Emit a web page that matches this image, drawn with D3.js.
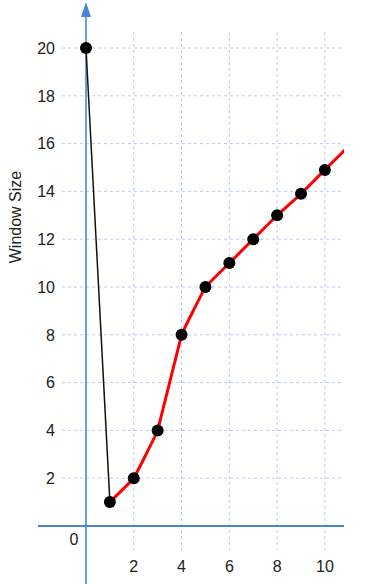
<!DOCTYPE html>
<html>
<head>
<meta charset="utf-8">
<script src="https://cdn.jsdelivr.net/npm/d3@7"></script>
<style>
  body { margin: 0; background: #fff; }
  text { font-family: Arial, "Liberation Sans", sans-serif; fill: #222; }
</style>
</head>
<body>
<svg id="chart" width="370" height="584"></svg>
<script>
// data
var steps = [0, 1, 2, 3, 4, 5, 6, 7, 8, 9, 10];
var windowSize = [20, 1, 2, 4, 8, 10, 11, 12, 13, 13.9, 14.9];
var growthX = [1, 2, 3, 4, 5, 6, 7, 8, 9, 10, 11];
var growthY = [1, 2, 4, 8, 10, 11, 12, 13, 13.9, 14.9, 15.9];
var xTicks = [2, 4, 6, 8, 10];
var yTicks = [2, 4, 6, 8, 10, 12, 14, 16, 18, 20];

var svg = d3.select("#chart");

var x = d3.scaleLinear().domain([0, 10.8]).range([86, 344]);
var y = d3.scaleLinear().domain([0, 20]).range([526, 48]);

var blue = "#4a86d8";
var gridColor = "#b5cef0";

svg.append("defs").append("clipPath").attr("id", "plot")
  .append("rect").attr("x", 0).attr("y", 0).attr("width", 344).attr("height", 584);

// grid
svg.append("g").selectAll("line").data(xTicks).enter().append("line")
  .attr("x1", d => x(d)).attr("x2", d => x(d))
  .attr("y1", 32).attr("y2", 550)
  .attr("stroke", gridColor).attr("stroke-dasharray", "3,3");

svg.append("g").selectAll("line").data(yTicks).enter().append("line")
  .attr("x1", 62).attr("x2", 344)
  .attr("y1", d => y(d)).attr("y2", d => y(d))
  .attr("stroke", gridColor).attr("stroke-dasharray", "3,3");

// axes
svg.append("line")
  .attr("x1", 38).attr("x2", 344)
  .attr("y1", y(0)).attr("y2", y(0))
  .attr("stroke", blue).attr("stroke-width", 2);

svg.append("line")
  .attr("x1", x(0)).attr("x2", x(0))
  .attr("y1", 12).attr("y2", 584)
  .attr("stroke", blue).attr("stroke-width", 1.6);

svg.append("path")
  .attr("d", `M${x(0)},2 L${x(0) - 5},17 L${x(0) + 5},17 Z`)
  .attr("fill", blue);

// tick labels
svg.append("g").selectAll("text").data(yTicks).enter().append("text")
  .attr("x", 55).attr("y", d => y(d))
  .attr("dy", "0.36em")
  .attr("text-anchor", "end")
  .attr("font-size", 16)
  .text(d => d);

svg.append("g").selectAll("text").data(xTicks).enter().append("text")
  .attr("x", d => x(d)).attr("y", 566)
  .attr("dy", "0.36em")
  .attr("text-anchor", "middle")
  .attr("font-size", 16)
  .text(d => d);

svg.append("text")
  .attr("x", 74).attr("y", 539)
  .attr("dy", "0.36em")
  .attr("text-anchor", "middle")
  .attr("font-size", 16)
  .text("0");

svg.append("text")
  .attr("transform", "translate(15,217) rotate(-90)")
  .attr("dy", "0.36em")
  .attr("text-anchor", "middle")
  .attr("font-size", 16)
  .text("Window Size");

// black drop line
var pts = steps.map((s, i) => [s, windowSize[i]]);
svg.append("path")
  .attr("d", d3.line().x(d => x(d[0])).y(d => y(d[1]))(pts.slice(0, 2)))
  .attr("fill", "none").attr("stroke", "#111").attr("stroke-width", 1.5);

// red growth curve
var growth = growthX.map((g, i) => [g, growthY[i]]);
svg.append("path")
  .attr("clip-path", "url(#plot)")
  .attr("d", d3.line().curve(d3.curveCardinal.tension(0.85))
    .x(d => x(d[0])).y(d => y(d[1]))(growth))
  .attr("fill", "none").attr("stroke", "#ff0000").attr("stroke-width", 3);

// points
svg.append("g").selectAll("circle").data(pts).enter().append("circle")
  .attr("cx", d => x(d[0])).attr("cy", d => y(d[1]))
  .attr("r", 6).attr("fill", "#000");
</script>
</body>
</html>
